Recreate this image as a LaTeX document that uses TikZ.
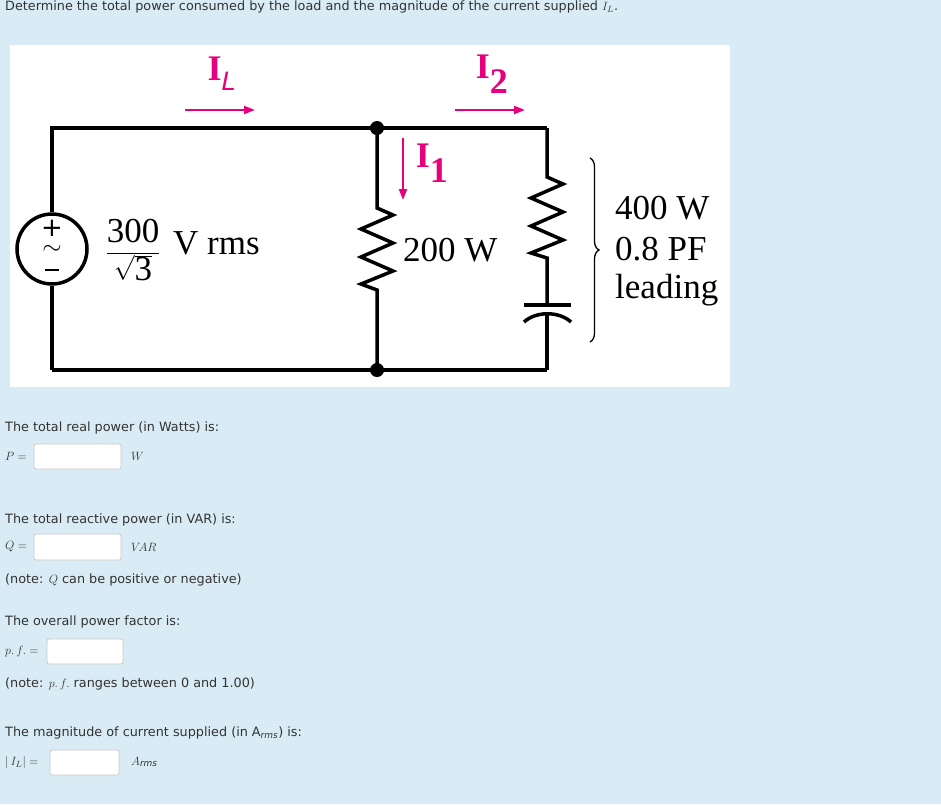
\documentclass[tikz,border=0pt]{standalone}
\usepackage{fontspec}
\setmainfont{DejaVu Sans}
\newfontfamily\circfont{Liberation Serif}
\usetikzlibrary{decorations.pathreplacing,arrows.meta}
\definecolor{bgc}{HTML}{D9ECF5}
\definecolor{txt}{HTML}{333333}
\definecolor{mag}{HTML}{E6007E}
\definecolor{boxb}{HTML}{C8C8C8}
\tikzset{
  wire/.style={line width=3.5pt,black},
  ftext/.style={anchor=west,inner sep=0pt,text=txt,font=\fontsize{12.8pt}{15pt}\selectfont},
  ansbox/.style={draw=boxb,fill=white,rounded corners=2pt,line width=0.8pt},
  ctext/.style={inner sep=0pt,font=\circfont\fontsize{35pt}{38pt}\selectfont},
  curr/.style={mag,line width=2.2pt,-{Triangle[length=11pt,width=8pt]}},
  clabel/.style={inner sep=0pt,text=mag,font=\circfont\bfseries\fontsize{36pt}{38pt}\selectfont},
}
\begin{document}
\begin{tikzpicture}[x=1pt,y=-1pt]
\fill[bgc] (0,0) rectangle (941,804);
\useasboundingbox (0,0) rectangle (941,804);
\fill[white] (10,45) rectangle (730,387);
\node[ftext] (title) at (5,7) {Determine the total power consumed by the load and the magnitude of the current supplied $I_L$.};
% coordinates
\coordinate (tl) at (52,128); \coordinate (bl) at (52,370);
\coordinate (tm) at (377,128); \coordinate (bm) at (377,370);
\coordinate (tr) at (547,128); \coordinate (br) at (547,370);
% source
\node[draw,circle,line width=3.5pt,minimum size=70pt,inner sep=0pt] (src) at (52,249) {};
\draw[wire] (bl) -- (src.south);
\draw[wire] (src.north) -- (tl) -- (tm) -- (tr);
\draw[wire] (bl) -- (bm) -- (br);
\node[inner sep=0pt,font=\fontsize{26pt}{26pt}\selectfont] (plus) at (52,228) {+};
\node[inner sep=0pt,font=\fontsize{26pt}{26pt}\selectfont] (tilde) at (52,250) {$\sim$};
\draw[line width=2pt] (45,270) -- (59,270);
% middle resistor
\coordinate (mr1) at (377,208); \coordinate (mr2) at (377,290);
\draw[wire,line join=miter] (tm) -- (mr1) -- (393,215) -- (361,229) -- (393,243) -- (361,257) -- (393,271) -- (361,284) -- (mr2) -- (bm);
\fill (tm) circle (7pt); \fill (bm) circle (7pt);
% right branch
\coordinate (rr1) at (547,177); \coordinate (rr2) at (547,258);
\draw[wire,line join=miter] (tr) -- (rr1) -- (563,184) -- (531,198) -- (563,212) -- (531,226) -- (563,240) -- (531,253) -- (rr2) -- (547,305);
\draw[wire] (524,305) -- (571,305);
\draw[wire] (524,322) .. controls (536,311) and (559,311) .. (571,322);
\draw[wire] (547,314) -- (br);
% brace
\draw[line width=1.3pt,decorate,decoration={brace,amplitude=9pt}] (590,158) -- (590,342);
\node[ctext,anchor=west] (l1) at (615,208) {400 W};
\node[ctext,anchor=west] (l2) at (615,249) {0.8 PF};
\node[ctext,anchor=west] (l3) at (615,290) {leading};
\node[ctext,anchor=west] (l200) at (403,250) {200 W};
\node[ctext] (frac) at (133,250) {$\displaystyle\frac{\mbox{\circfont 300}}{\sqrt{\mbox{\circfont 3}}}$};
\node[ctext,anchor=west] (vrms) at (173,243) {V rms};
% currents
\node[clabel] (il) at (222,74) {I$_{\mathit L}$};
\draw[curr] (185,110) -- (255,110);
\node[clabel] (i2) at (492,74) {I$_{\mbox{\circfont 2}}$};
\draw[curr] (455,110) -- (525,110);
\draw[curr] (403,138) -- (403,200);
\node[clabel] (i1) at (432,163) {I$_{\mbox{\circfont 1}}$};
% form
\node[ftext] (q1) at (5,428) {The total real power (in Watts) is:};
\node[ftext] (pl) at (5,456) {$P=$};
\draw[ansbox] (34,444) rectangle (121,469);
\node[ftext] (pu) at (131,456) {$W$};
\node[ftext] (q2) at (5,520) {The total reactive power (in VAR) is:};
\node[ftext] (ql) at (5,547) {$Q=$};
\draw[ansbox] (34,534) rectangle (121,560);
\node[ftext] (qu) at (131,547) {$V\!AR$};
\node[ftext] (n1) at (5,580) {(note: $Q$ can be positive or negative)};
\node[ftext] (q3) at (5,622) {The overall power factor is:};
\node[ftext] (pfl) at (5,651) {$p.\,f.=$};
\draw[ansbox] (47,639) rectangle (123,664);
\node[ftext] (n2) at (5,684) {(note: $p.\,f.$ ranges between 0 and 1.00)};
\node[ftext] (q4) at (5,733) {The magnitude of current supplied (in A$_{\mathit{rms}}$) is:};
\node[ftext] (ill) at (5,762) {$|\,I_L|=$};
\draw[ansbox] (50,750) rectangle (119,775);
\node[ftext] (ilu) at (131,762) {$A_{\mathit{rms}}$};
\end{tikzpicture}
\end{document}
